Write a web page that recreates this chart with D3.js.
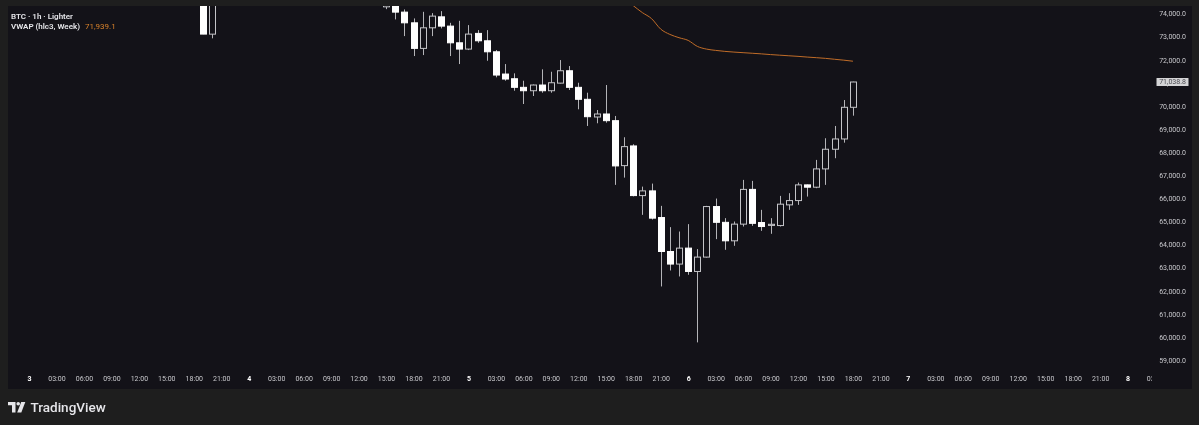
<!DOCTYPE html>
<html><head><meta charset="utf-8">
<script src="https://cdn.jsdelivr.net/npm/d3@7/dist/d3.min.js"></script>
<style>html,body{margin:0;padding:0;background:#1e1e1e;}svg{display:block;will-change:transform;}</style>
</head><body>
<svg id="c" width="1199" height="425"></svg>
<script>
// ---- data (hour offsets from day 3 00:00) ----
const hours = [19,20,39,40,41,42,43,44,45,46,47,48,49,50,51,52,53,54,55,56,57,58,59,60,61,62,63,64,65,66,67,68,69,70,71,72,73,74,75,76,77,78,79,80,81,82,83,84,85,86,87,88,89,90];
const open  = [74900,73110,74293,74700,74064,73601,72494,73385,73860,73458,72736,72464,73143,72823,72347,71383,71180,70808,70661,70908,70661,70990,71526,70808,70290,69524,69654,69365,67419,68271,66122,66325,65171,63701,63157,63848,62837,63459,65647,64964,64164,64886,66390,64955,64830,64825,65720,65906,66585,66485,67277,68128,68573,69944];
const high  = [75000,75100,74900,74850,74180,73791,74077,74020,74107,73601,73688,73502,73285,73285,72421,71816,71414,71094,70930,71587,71483,71989,71729,71007,70575,69827,70908,69568,68647,68344,66511,66641,65677,64756,64566,64886,63805,65677,65993,65145,64998,66801,66758,65504,65145,66109,66226,66684,66600,67666,68604,69135,70259,71050];
const low   = [73110,72930,74193,73748,73026,72162,72205,73026,73359,72162,71816,72421,72736,71958,71241,71094,70661,70086,70432,70575,70575,70980,70692,69857,69135,69252,69278,66585,66900,66088,65288,65085,62188,62880,62621,62694,59767,63440,64237,63775,63948,64782,64812,64596,64467,64782,65504,65720,66079,66442,66585,67739,68413,69581];
const close = [73113,74850,74700,74064,73601,72494,73385,73891,73458,72736,72464,73113,72823,72347,71340,71167,70808,70661,70908,70661,71007,71526,70808,70290,69537,69654,69365,67406,68241,66122,66325,65145,63701,63157,63848,62837,63459,65647,64964,64164,64886,66390,64920,64782,64880,65750,65906,66585,66485,67277,68128,68573,69944,71038.8];

const vwapHours  = [65,66,67,68,69,70,71,72,73,74,75,76,77,78,79,80,81,82,83,84,85,86,87,88,89,90];
const vwapValues = [74669,74345,74042,73783,73329,73100,72957,72840,72581,72464,72408,72365,72334,72308,72283,72257,72226,72200,72174,72149,72118,72092,72062,72023,71984,71939.1];

const priceTicks = [59000,60000,61000,62000,63000,64000,65000,66000,67000,68000,69000,70000,71000,72000,73000,74000];
const timeTickLabels = ["3","03:00","06:00","09:00","12:00","15:00","18:00","21:00",
  "4","03:00","06:00","09:00","12:00","15:00","18:00","21:00",
  "5","03:00","06:00","09:00","12:00","15:00","18:00","21:00",
  "6","03:00","06:00","09:00","12:00","15:00","18:00","21:00",
  "7","03:00","06:00","09:00","12:00","15:00","18:00","21:00",
  "8","03:00"];
const dayLabels = ["3","4","5","6","7","8"];
const lastPrice = 71038.8;
const vwapLast = 71939.1;

// ---- drawing ----
const svg = d3.select("#c");
const font = "Roboto, 'Noto Sans', sans-serif";
svg.append("rect").attr("width",1199).attr("height",425).attr("fill","#1e1e1e");
svg.append("rect").attr("x",8).attr("y",6).attr("width",1184).attr("height",383).attr("fill","#131218");

const x = d3.scaleLinear().domain([0,120]).range([29,1127.6]);
const y = d3.scaleLinear().domain([60000,70000]).range([337,106]);

const defs = svg.append("defs");
defs.append("clipPath").attr("id","plot").append("rect").attr("x",8).attr("y",6).attr("width",1144).attr("height",364);
defs.append("clipPath").attr("id","taxis").append("rect").attr("x",8).attr("y",370).attr("width",1144).attr("height",19);

const candles = hours.map((h,i)=>({h,o:open[i],hi:high[i],lo:low[i],c:close[i]}));
const g = svg.append("g").attr("clip-path","url(#plot)");
const bw = 6;
// wicks
g.selectAll("line.wick").data(candles).join("line")
  .attr("x1",d=>Math.round(x(d.h))+0.5).attr("x2",d=>Math.round(x(d.h))+0.5)
  .attr("y1",d=>y(d.hi)).attr("y2",d=>y(d.lo))
  .attr("stroke","#b4b4b8").attr("stroke-width",1);
// bodies
g.selectAll("rect.body").data(candles).join("rect")
  .attr("x",d=>Math.round(x(d.h))-bw/2+0.5)
  .attr("y",d=>y(Math.max(d.o,d.c)))
  .attr("width",bw)
  .attr("height",d=>Math.max(1,Math.abs(y(d.o)-y(d.c))))
  .attr("fill",d=>d.c>=d.o?"#131218":"#ffffff")
  .attr("stroke",d=>d.c>=d.o?"#c4c4c8":"#ffffff")
  .attr("stroke-width",1);

// VWAP
g.append("path").datum(vwapHours.map((h,i)=>[h,vwapValues[i]]))
  .attr("d",d3.line().x(d=>x(d[0])).y(d=>y(d[1])).curve(d3.curveMonotoneX))
  .attr("fill","none").attr("stroke","#c06c28").attr("stroke-width",1);

// price axis
const pa = svg.append("g").attr("transform","translate(1186,0)")
  .call(d3.axisRight(y).tickValues(priceTicks).tickFormat(d3.format(",.1f")).tickSize(0).tickPadding(0));
pa.select(".domain").remove();
pa.selectAll("text").attr("text-anchor","end").attr("x",0).attr("fill","#c8c8cc")
  .style("font-family",font).style("font-size","7px");

// last price label
const lp = svg.append("g").attr("transform",`translate(0,${y(lastPrice)})`);
lp.append("rect").attr("x",1156.5).attr("y",-4).attr("width",32).attr("height",8).attr("fill","#d4d4d6").attr("rx",0.5);
lp.append("text").attr("x",1186).attr("y",0).attr("dy","0.34em").attr("text-anchor","end")
  .attr("fill","#4a4a50").style("font-family",font).style("font-size","7px").text(d3.format(",.1f")(lastPrice));

// time axis
const tickHours = timeTickLabels.map((_,i)=>i*3);
const ta = svg.append("g").attr("clip-path","url(#taxis)").append("g").attr("transform","translate(0,376)")
  .call(d3.axisBottom(x).tickValues(tickHours).tickFormat((d,i)=>timeTickLabels[i]).tickSize(0).tickPadding(0));
ta.select(".domain").remove();
ta.selectAll("text").attr("fill",(d,i)=>dayLabels.includes(timeTickLabels[i])?"#ffffff":"#c8c8cc")
  .style("font-weight",(d,i)=>dayLabels.includes(timeTickLabels[i])?"700":"400")
  .style("font-family",font).style("font-size","7px");

// legend
svg.append("text").attr("x",11).attr("y",18.5).attr("fill","#e6e6ea")
  .style("font-family",font).style("font-size","8px").style("font-weight","600").text("BTC · 1h · Lighter");
const l2 = svg.append("text").attr("x",11).attr("y",28.5).style("font-family",font).style("font-size","8px").style("font-weight","600");
l2.append("tspan").attr("fill","#e6e6ea").text("VWAP (hlc3, Week)");
l2.append("tspan").attr("fill","#d9822b").attr("dx",5).style("font-weight","400").text(d3.format(",.1f")(vwapLast));

// TradingView logo
const logo = svg.append("g").attr("fill","#e6e6ea");
logo.append("path").attr("d","M8,402 H15.5 V412.5 H12 V405.2 H8 Z");
logo.append("circle").attr("cx",18.2).attr("cy",403.8).attr("r",1.8);
logo.append("path").attr("d","M21.2,402 H25.3 L21.3,412.5 H17.2 Z");
svg.append("text").attr("x",30.5).attr("y",412).attr("fill","#e6e6ea")
  .style("font-family",font).style("font-size","13.5px").style("font-weight","500").text("TradingView");
</script>
</body></html>
